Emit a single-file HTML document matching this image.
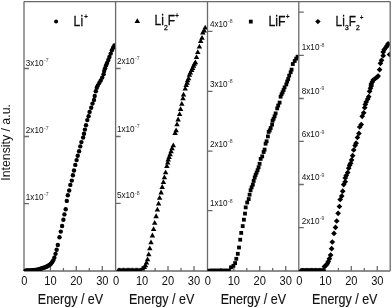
<!DOCTYPE html>
<html><head><meta charset="utf-8"><style>
html,body{margin:0;padding:0;background:#fff;width:392px;height:308px;overflow:hidden}
svg{display:block}
</style></head><body>
<svg width="392" height="308" viewBox="0 0 392 308">
<defs>
<clipPath id="c0"><rect x="22.0" y="0" width="93.1" height="271.0"/></clipPath>
<clipPath id="c1"><rect x="113.6" y="0" width="93.4" height="271.0"/></clipPath>
<clipPath id="c2"><rect x="205.5" y="0" width="92.80000000000001" height="271.0"/></clipPath>
<clipPath id="c3"><rect x="296.8" y="0" width="92.89999999999998" height="271.0"/></clipPath>
</defs>
<rect width="392" height="308" fill="#fff"/>
<g stroke="#6a6a6a" stroke-width="1.3" fill="none">
<path d="M24.0 1.6H390.2M24.0 271.0H390.2"/>
<path d="M24.0 1.6V271.0"/>
<path d="M115.6 1.6V271.0"/>
<path d="M207.5 1.6V271.0"/>
<path d="M298.8 1.6V271.0"/>
<path d="M390.2 1.6V271.0"/>
<path d="M37.4 271.0V268.0M50.4 271.0V266.0M63.4 271.0V268.0M76.3 271.0V266.0M89.3 271.0V268.0M102.3 271.0V266.0M129.1 271.0V268.0M142.1 271.0V266.0M155.1 271.0V268.0M168.0 271.0V266.0M181.0 271.0V268.0M194.0 271.0V266.0M220.8 271.0V268.0M233.8 271.0V266.0M246.8 271.0V268.0M259.7 271.0V266.0M272.7 271.0V268.0M285.7 271.0V266.0M312.4 271.0V268.0M325.4 271.0V266.0M338.4 271.0V268.0M351.3 271.0V266.0M364.3 271.0V268.0M377.3 271.0V266.0M24.0 68.5H29.0M24.0 136.5H29.0M24.0 203.6H29.0M115.6 68.5H120.6M115.6 136.5H120.6M115.6 203.3H120.6M207.5 31.4H212.5M207.5 91.4H212.5M207.5 151.1H212.5M207.5 210.6H212.5M298.8 12.2H303.8M298.8 55.4H303.8M298.8 98.5H303.8M298.8 141.4H303.8M298.8 184.5H303.8M298.8 227.6H303.8"/>
</g>
<g fill="#000" clip-path="url(#c0)"><circle cx="25.60" cy="270.59" r="2.2"/><circle cx="26.75" cy="270.56" r="2.2"/><circle cx="27.90" cy="270.54" r="2.2"/><circle cx="29.05" cy="270.52" r="2.2"/><circle cx="30.20" cy="270.48" r="2.2"/><circle cx="31.35" cy="270.37" r="2.2"/><circle cx="32.50" cy="270.25" r="2.2"/><circle cx="33.65" cy="270.13" r="2.2"/><circle cx="34.80" cy="270.02" r="2.2"/><circle cx="35.95" cy="269.91" r="2.2"/><circle cx="37.10" cy="269.77" r="2.2"/><circle cx="38.25" cy="269.43" r="2.2"/><circle cx="39.40" cy="269.08" r="2.2"/><circle cx="40.55" cy="268.74" r="2.2"/><circle cx="41.70" cy="268.38" r="2.2"/><circle cx="42.85" cy="268.03" r="2.2"/><circle cx="44.00" cy="267.65" r="2.2"/><circle cx="45.15" cy="267.22" r="2.2"/><circle cx="46.30" cy="266.79" r="2.2"/><circle cx="47.45" cy="266.20" r="2.2"/><circle cx="48.60" cy="265.49" r="2.2"/><circle cx="49.75" cy="264.68" r="2.2"/><circle cx="50.90" cy="263.64" r="2.2"/><circle cx="52.05" cy="262.26" r="2.2"/><circle cx="53.20" cy="260.35" r="2.2"/><circle cx="54.35" cy="257.76" r="2.2"/><circle cx="55.50" cy="253.87" r="2.2"/><circle cx="56.65" cy="249.76" r="2.2"/><circle cx="57.80" cy="244.98" r="2.2"/><circle cx="59.50" cy="237.20" r="2.2"/><circle cx="60.80" cy="231.60" r="2.2"/><circle cx="62.10" cy="226.00" r="2.2"/><circle cx="63.40" cy="219.70" r="2.2"/><circle cx="64.40" cy="214.40" r="2.2"/><circle cx="65.70" cy="209.30" r="2.2"/><circle cx="66.80" cy="200.90" r="2.2"/><circle cx="67.80" cy="195.30" r="2.2"/><circle cx="69.20" cy="190.50" r="2.2"/><circle cx="70.30" cy="184.90" r="2.2"/><circle cx="71.80" cy="180.60" r="2.2"/><circle cx="72.90" cy="175.20" r="2.2"/><circle cx="74.00" cy="170.50" r="2.2"/><circle cx="75.30" cy="164.90" r="2.2"/><circle cx="76.60" cy="160.10" r="2.2"/><circle cx="77.70" cy="155.80" r="2.2"/><circle cx="79.10" cy="151.20" r="2.2"/><circle cx="80.30" cy="146.40" r="2.2"/><circle cx="81.40" cy="142.10" r="2.2"/><circle cx="83.10" cy="137.60" r="2.2"/><circle cx="84.00" cy="133.80" r="2.2"/><circle cx="84.90" cy="129.60" r="2.2"/><circle cx="86.00" cy="125.30" r="2.2"/><circle cx="87.30" cy="120.10" r="2.2"/><circle cx="88.60" cy="116.20" r="2.2"/><circle cx="89.60" cy="111.90" r="2.2"/><circle cx="91.20" cy="107.80" r="2.2"/><circle cx="92.50" cy="103.60" r="2.2"/><circle cx="94.00" cy="100.00" r="2.2"/><circle cx="94.70" cy="96.00" r="2.2"/><circle cx="95.80" cy="91.20" r="2.2"/><circle cx="96.80" cy="87.80" r="2.2"/><circle cx="97.80" cy="85.40" r="2.2"/><circle cx="99.30" cy="82.90" r="2.2"/><circle cx="100.70" cy="80.50" r="2.2"/><circle cx="102.20" cy="77.60" r="2.2"/><circle cx="103.60" cy="74.20" r="2.2"/><circle cx="104.20" cy="71.00" r="2.2"/><circle cx="105.10" cy="68.20" r="2.2"/><circle cx="106.10" cy="65.30" r="2.2"/><circle cx="107.10" cy="62.90" r="2.2"/><circle cx="108.30" cy="60.00" r="2.2"/><circle cx="109.40" cy="57.00" r="2.2"/><circle cx="110.70" cy="53.60" r="2.2"/><circle cx="111.90" cy="50.20" r="2.2"/><circle cx="113.10" cy="47.70" r="2.2"/><circle cx="114.40" cy="45.40" r="2.2"/></g>
<g fill="#000" clip-path="url(#c1)"><path d="M118.30 267.42L121.05 272.19L115.55 272.19Z"/><path d="M119.60 267.42L122.35 272.19L116.85 272.19Z"/><path d="M120.90 267.42L123.65 272.19L118.15 272.19Z"/><path d="M122.20 267.42L124.95 272.19L119.45 272.19Z"/><path d="M123.50 267.42L126.25 272.19L120.75 272.19Z"/><path d="M124.80 267.42L127.55 272.19L122.05 272.19Z"/><path d="M126.10 267.42L128.85 272.19L123.35 272.19Z"/><path d="M127.40 267.42L130.15 272.19L124.65 272.19Z"/><path d="M128.70 267.42L131.45 272.19L125.95 272.19Z"/><path d="M130.00 267.42L132.75 272.19L127.25 272.19Z"/><path d="M131.30 267.42L134.05 272.19L128.55 272.19Z"/><path d="M132.60 267.42L135.35 272.19L129.85 272.19Z"/><path d="M133.90 267.42L136.65 272.19L131.15 272.19Z"/><path d="M135.20 267.42L137.95 272.19L132.45 272.19Z"/><path d="M136.50 267.42L139.25 272.19L133.75 272.19Z"/><path d="M137.80 267.42L140.55 272.19L135.05 272.19Z"/><path d="M139.10 267.42L141.85 272.19L136.35 272.19Z"/><path d="M140.40 267.42L143.15 272.19L137.65 272.19Z"/><path d="M142.60 265.82L145.35 270.59L139.85 270.59Z"/><path d="M144.30 264.22L147.05 268.99L141.55 268.99Z"/><path d="M145.40 262.52L148.15 267.29L142.65 267.29Z"/><path d="M146.50 259.82L149.25 264.59L143.75 264.59Z"/><path d="M147.60 256.52L150.35 261.29L144.85 261.29Z"/><path d="M148.70 251.52L151.45 256.29L145.95 256.29Z"/><path d="M149.80 245.42L152.55 250.19L147.05 250.19Z"/><path d="M151.00 239.47L153.75 244.24L148.25 244.24Z"/><path d="M152.40 232.62L155.15 237.39L149.65 237.39Z"/><path d="M153.60 226.32L156.35 231.09L150.85 231.09Z"/><path d="M154.70 220.02L157.45 224.79L151.95 224.79Z"/><path d="M156.10 213.37L158.85 218.14L153.35 218.14Z"/><path d="M157.40 206.72L160.15 211.49L154.65 211.49Z"/><path d="M158.60 200.82L161.35 205.59L155.85 205.59Z"/><path d="M159.60 195.02L162.35 199.79L156.85 199.79Z"/><path d="M161.10 189.62L163.85 194.39L158.35 194.39Z"/><path d="M162.20 184.12L164.95 188.89L159.45 188.89Z"/><path d="M163.40 179.32L166.15 184.09L160.65 184.09Z"/><path d="M164.40 174.42L167.15 179.19L161.65 179.19Z"/><path d="M165.60 169.52L168.35 174.29L162.85 174.29Z"/><path d="M166.85 163.17L169.60 167.94L164.10 167.94Z"/><path d="M167.70 159.72L170.45 164.49L164.95 164.49Z"/><path d="M168.20 156.72L170.95 161.49L165.45 161.49Z"/><path d="M169.10 154.32L171.85 159.09L166.35 159.09Z"/><path d="M170.10 151.42L172.85 156.19L167.35 156.19Z"/><path d="M171.10 148.52L173.85 153.29L168.35 153.29Z"/><path d="M172.10 145.52L174.85 150.29L169.35 150.29Z"/><path d="M173.30 142.57L176.05 147.34L170.55 147.34Z"/><path d="M175.10 130.32L177.85 135.09L172.35 135.09Z"/><path d="M176.10 127.42L178.85 132.19L173.35 132.19Z"/><path d="M177.00 121.52L179.75 126.29L174.25 126.29Z"/><path d="M178.10 116.62L180.85 121.39L175.35 121.39Z"/><path d="M179.60 111.22L182.35 115.99L176.85 115.99Z"/><path d="M180.60 106.32L183.35 111.09L177.85 111.09Z"/><path d="M181.80 101.02L184.55 105.79L179.05 105.79Z"/><path d="M182.95 95.57L185.70 100.34L180.20 100.34Z"/><path d="M183.50 91.72L186.25 96.49L180.75 96.49Z"/><path d="M185.20 85.72L187.95 90.49L182.45 90.49Z"/><path d="M186.20 82.32L188.95 87.09L183.45 87.09Z"/><path d="M187.10 79.92L189.85 84.69L184.35 84.69Z"/><path d="M187.60 77.42L190.35 82.19L184.85 82.19Z"/><path d="M188.60 75.52L191.35 80.29L185.85 80.29Z"/><path d="M189.45 72.02L192.20 76.79L186.70 76.79Z"/><path d="M190.40 69.82L193.15 74.59L187.65 74.59Z"/><path d="M191.68 67.20L194.43 71.96L188.93 71.96Z"/><path d="M192.60 65.27L195.35 70.04L189.85 70.04Z"/><path d="M193.50 63.02L196.25 67.79L190.75 67.79Z"/><path d="M194.40 61.02L197.15 65.79L191.65 65.79Z"/><path d="M195.40 59.42L198.15 64.19L192.65 64.19Z"/><path d="M196.50 54.32L199.25 59.09L193.75 59.09Z"/><path d="M197.75 49.22L200.50 53.99L195.00 53.99Z"/><path d="M199.40 43.82L202.15 48.59L196.65 48.59Z"/><path d="M200.70 38.22L203.45 42.99L197.95 42.99Z"/><path d="M202.00 35.02L204.75 39.79L199.25 39.79Z"/><path d="M202.80 29.72L205.55 34.49L200.05 34.49Z"/><path d="M204.20 27.72L206.95 32.49L201.45 32.49Z"/><path d="M205.20 24.82L207.95 29.59L202.45 29.59Z"/></g>
<g fill="#000" clip-path="url(#c2)"><rect x="207.50" y="268.80" width="3.8" height="3.8"/><rect x="208.80" y="268.80" width="3.8" height="3.8"/><rect x="210.10" y="268.80" width="3.8" height="3.8"/><rect x="211.40" y="268.80" width="3.8" height="3.8"/><rect x="212.70" y="268.80" width="3.8" height="3.8"/><rect x="214.00" y="268.80" width="3.8" height="3.8"/><rect x="215.30" y="268.80" width="3.8" height="3.8"/><rect x="216.60" y="268.80" width="3.8" height="3.8"/><rect x="217.90" y="268.80" width="3.8" height="3.8"/><rect x="219.20" y="268.80" width="3.8" height="3.8"/><rect x="220.50" y="268.80" width="3.8" height="3.8"/><rect x="221.80" y="268.80" width="3.8" height="3.8"/><rect x="223.10" y="268.80" width="3.8" height="3.8"/><rect x="224.40" y="268.80" width="3.8" height="3.8"/><rect x="225.70" y="268.80" width="3.8" height="3.8"/><rect x="227.00" y="268.80" width="3.8" height="3.8"/><rect x="229.10" y="265.40" width="3.8" height="3.8"/><rect x="231.50" y="263.90" width="3.8" height="3.8"/><rect x="233.20" y="261.20" width="3.8" height="3.8"/><rect x="234.40" y="256.90" width="3.8" height="3.8"/><rect x="235.90" y="251.90" width="3.8" height="3.8"/><rect x="237.10" y="245.60" width="3.8" height="3.8"/><rect x="238.30" y="237.80" width="3.8" height="3.8"/><rect x="239.30" y="231.00" width="3.8" height="3.8"/><rect x="240.80" y="224.20" width="3.8" height="3.8"/><rect x="242.00" y="217.80" width="3.8" height="3.8"/><rect x="243.10" y="211.70" width="3.8" height="3.8"/><rect x="243.80" y="205.50" width="3.8" height="3.8"/><rect x="245.30" y="200.60" width="3.8" height="3.8"/><rect x="246.80" y="197.20" width="3.8" height="3.8"/><rect x="247.70" y="192.80" width="3.8" height="3.8"/><rect x="248.70" y="188.40" width="3.8" height="3.8"/><rect x="249.75" y="185.40" width="3.8" height="3.8"/><rect x="250.95" y="182.70" width="3.8" height="3.8"/><rect x="251.80" y="179.00" width="3.8" height="3.8"/><rect x="252.80" y="175.60" width="3.8" height="3.8"/><rect x="253.70" y="173.10" width="3.8" height="3.8"/><rect x="254.70" y="170.70" width="3.8" height="3.8"/><rect x="255.70" y="168.30" width="3.8" height="3.8"/><rect x="256.70" y="165.40" width="3.8" height="3.8"/><rect x="257.70" y="161.90" width="3.8" height="3.8"/><rect x="258.80" y="157.00" width="3.8" height="3.8"/><rect x="260.30" y="154.50" width="3.8" height="3.8"/><rect x="261.70" y="150.10" width="3.8" height="3.8"/><rect x="262.70" y="147.70" width="3.8" height="3.8"/><rect x="263.70" y="141.80" width="3.8" height="3.8"/><rect x="264.70" y="139.40" width="3.8" height="3.8"/><rect x="266.00" y="134.50" width="3.8" height="3.8"/><rect x="266.80" y="130.00" width="3.8" height="3.8"/><rect x="267.80" y="128.50" width="3.8" height="3.8"/><rect x="268.80" y="126.10" width="3.8" height="3.8"/><rect x="270.20" y="122.70" width="3.8" height="3.8"/><rect x="270.70" y="118.80" width="3.8" height="3.8"/><rect x="271.70" y="116.90" width="3.8" height="3.8"/><rect x="272.70" y="114.40" width="3.8" height="3.8"/><rect x="273.70" y="111.50" width="3.8" height="3.8"/><rect x="275.30" y="106.50" width="3.8" height="3.8"/><rect x="276.30" y="103.60" width="3.8" height="3.8"/><rect x="277.70" y="100.70" width="3.8" height="3.8"/><rect x="278.70" y="94.80" width="3.8" height="3.8"/><rect x="279.70" y="92.40" width="3.8" height="3.8"/><rect x="280.70" y="90.40" width="3.8" height="3.8"/><rect x="281.70" y="88.10" width="3.8" height="3.8"/><rect x="282.70" y="85.50" width="3.8" height="3.8"/><rect x="284.40" y="82.50" width="3.8" height="3.8"/><rect x="285.30" y="79.60" width="3.8" height="3.8"/><rect x="286.30" y="77.10" width="3.8" height="3.8"/><rect x="287.30" y="73.70" width="3.8" height="3.8"/><rect x="288.75" y="70.35" width="3.8" height="3.8"/><rect x="289.70" y="67.70" width="3.8" height="3.8"/><rect x="290.90" y="62.15" width="3.8" height="3.8"/><rect x="292.80" y="59.10" width="3.8" height="3.8"/><rect x="294.20" y="56.70" width="3.8" height="3.8"/><rect x="295.70" y="54.80" width="3.8" height="3.8"/></g>
<g fill="#000" clip-path="url(#c3)"><path d="M301.20 267.85L304.05 270.70L301.20 273.55L298.35 270.70Z"/><path d="M302.50 267.85L305.35 270.70L302.50 273.55L299.65 270.70Z"/><path d="M303.80 267.85L306.65 270.70L303.80 273.55L300.95 270.70Z"/><path d="M305.10 267.85L307.95 270.70L305.10 273.55L302.25 270.70Z"/><path d="M306.40 267.85L309.25 270.70L306.40 273.55L303.55 270.70Z"/><path d="M307.70 267.85L310.55 270.70L307.70 273.55L304.85 270.70Z"/><path d="M309.00 267.85L311.85 270.70L309.00 273.55L306.15 270.70Z"/><path d="M310.30 267.85L313.15 270.70L310.30 273.55L307.45 270.70Z"/><path d="M311.60 267.85L314.45 270.70L311.60 273.55L308.75 270.70Z"/><path d="M312.90 267.85L315.75 270.70L312.90 273.55L310.05 270.70Z"/><path d="M314.20 267.85L317.05 270.70L314.20 273.55L311.35 270.70Z"/><path d="M315.50 267.85L318.35 270.70L315.50 273.55L312.65 270.70Z"/><path d="M316.80 267.85L319.65 270.70L316.80 273.55L313.95 270.70Z"/><path d="M318.10 267.85L320.95 270.70L318.10 273.55L315.25 270.70Z"/><path d="M319.40 267.85L322.25 270.70L319.40 273.55L316.55 270.70Z"/><path d="M320.70 267.85L323.55 270.70L320.70 273.55L317.85 270.70Z"/><path d="M322.00 267.85L324.85 270.70L322.00 273.55L319.15 270.70Z"/><path d="M323.30 267.85L326.15 270.70L323.30 273.55L320.45 270.70Z"/><path d="M324.40 263.75L327.25 266.60L324.40 269.45L321.55 266.60Z"/><path d="M325.90 262.55L328.75 265.40L325.90 268.25L323.05 265.40Z"/><path d="M327.30 260.85L330.15 263.70L327.30 266.55L324.45 263.70Z"/><path d="M328.30 258.75L331.15 261.60L328.30 264.45L325.45 261.60Z"/><path d="M329.40 255.85L332.25 258.70L329.40 261.55L326.55 258.70Z"/><path d="M330.60 252.25L333.45 255.10L330.60 257.95L327.75 255.10Z"/><path d="M331.60 245.85L334.45 248.70L331.60 251.55L328.75 248.70Z"/><path d="M332.30 239.15L335.15 242.00L332.30 244.85L329.45 242.00Z"/><path d="M334.00 230.55L336.85 233.40L334.00 236.25L331.15 233.40Z"/><path d="M335.50 224.55L338.35 227.40L335.50 230.25L332.65 227.40Z"/><path d="M336.70 218.15L339.55 221.00L336.70 223.85L333.85 221.00Z"/><path d="M338.10 210.45L340.95 213.30L338.10 216.15L335.25 213.30Z"/><path d="M339.40 203.65L342.25 206.50L339.40 209.35L336.55 206.50Z"/><path d="M340.20 196.65L343.05 199.50L340.20 202.35L337.35 199.50Z"/><path d="M341.70 193.25L344.55 196.10L341.70 198.95L338.85 196.10Z"/><path d="M342.70 188.35L345.55 191.20L342.70 194.05L339.85 191.20Z"/><path d="M343.70 181.70L346.55 184.55L343.70 187.40L340.85 184.55Z"/><path d="M345.20 179.00L348.05 181.85L345.20 184.70L342.35 181.85Z"/><path d="M345.30 175.05L348.15 177.90L345.30 180.75L342.45 177.90Z"/><path d="M346.20 172.65L349.05 175.50L346.20 178.35L343.35 175.50Z"/><path d="M347.70 169.75L350.55 172.60L347.70 175.45L344.85 172.60Z"/><path d="M348.70 165.35L351.55 168.20L348.70 171.05L345.85 168.20Z"/><path d="M349.60 162.45L352.45 165.30L349.60 168.15L346.75 165.30Z"/><path d="M350.60 160.45L353.45 163.30L350.60 166.15L347.75 163.30Z"/><path d="M351.60 157.05L354.45 159.90L351.60 162.75L348.75 159.90Z"/><path d="M352.65 152.85L355.50 155.70L352.65 158.55L349.80 155.70Z"/><path d="M353.70 147.15L356.55 150.00L353.70 152.85L350.85 150.00Z"/><path d="M355.10 142.75L357.95 145.60L355.10 148.45L352.25 145.60Z"/><path d="M356.10 140.35L358.95 143.20L356.10 146.05L353.25 143.20Z"/><path d="M357.45 134.65L360.30 137.50L357.45 140.35L354.60 137.50Z"/><path d="M358.90 130.55L361.75 133.40L358.90 136.25L356.05 133.40Z"/><path d="M359.70 124.15L362.55 127.00L359.70 129.85L356.85 127.00Z"/><path d="M361.20 121.75L364.05 124.60L361.20 127.45L358.35 124.60Z"/><path d="M362.20 113.45L365.05 116.30L362.20 119.15L359.35 116.30Z"/><path d="M363.70 109.95L366.55 112.80L363.70 115.65L360.85 112.80Z"/><path d="M364.70 104.85L367.55 107.70L364.70 110.55L361.85 107.70Z"/><path d="M365.30 101.55L368.15 104.40L365.30 107.25L362.45 104.40Z"/><path d="M366.20 99.15L369.05 102.00L366.20 104.85L363.35 102.00Z"/><path d="M367.70 96.25L370.55 99.10L367.70 101.95L364.85 99.10Z"/><path d="M368.70 93.85L371.55 96.70L368.70 99.55L365.85 96.70Z"/><path d="M369.60 88.45L372.45 91.30L369.60 94.15L366.75 91.30Z"/><path d="M370.45 85.45L373.30 88.30L370.45 91.15L367.60 88.30Z"/><path d="M371.20 83.05L374.05 85.90L371.20 88.75L368.35 85.90Z"/><path d="M371.30 81.05L374.15 83.90L371.30 86.75L368.45 83.90Z"/><path d="M372.30 79.05L375.15 81.90L372.30 84.75L369.45 81.90Z"/><path d="M373.20 77.15L376.05 80.00L373.20 82.85L370.35 80.00Z"/><path d="M374.70 76.15L377.55 79.00L374.70 81.85L371.85 79.00Z"/><path d="M376.70 74.65L379.55 77.50L376.70 80.35L373.85 77.50Z"/><path d="M378.10 73.25L380.95 76.10L378.10 78.95L375.25 76.10Z"/><path d="M379.60 66.85L382.45 69.70L379.60 72.55L376.75 69.70Z"/><path d="M380.45 60.50L383.30 63.35L380.45 66.20L377.60 63.35Z"/><path d="M381.52 57.42L384.38 60.27L381.52 63.12L378.67 60.27Z"/><path d="M383.20 52.85L386.05 55.70L383.20 58.55L380.35 55.70Z"/><path d="M389.50 51.65L392.35 54.50L389.50 57.35L386.65 54.50Z"/><path d="M383.20 49.25L386.05 52.10L383.20 54.95L380.35 52.10Z"/><path d="M384.20 46.75L387.05 49.60L384.20 52.45L381.35 49.60Z"/><path d="M386.10 44.35L388.95 47.20L386.10 50.05L383.25 47.20Z"/><path d="M387.10 42.85L389.95 45.70L387.10 48.55L384.25 45.70Z"/><path d="M388.10 40.95L390.95 43.80L388.10 46.65L385.25 43.80Z"/></g>
<g fill="#000">
<circle cx="56.10" cy="21.60" r="2.0"/>
<path d="M137.30 18.27L140.10 23.12L134.50 23.12Z"/>
<rect x="248.90" y="19.70" width="3.8" height="3.8"/>
<path d="M317.90 18.90L320.60 21.60L317.90 24.30L315.20 21.60Z"/>
</g>
<g font-family="Liberation Sans, Arial, sans-serif" fill="#111">
<text transform="translate(73.4,25.7) scale(0.86,1)" font-size="14.0" stroke="#000" stroke-width="0.3">L<tspan dx="0.6">i</tspan><tspan font-size="7" dx="1.0" dy="-6.3">+</tspan></text>
<text transform="translate(154.5,25.4) scale(0.855,1)" font-size="14.0" stroke="#000" stroke-width="0.3">Li<tspan font-size="8" dx="0.2" dy="4.2">2</tspan><tspan dy="-4.2">F</tspan><tspan font-size="7" dx="0.3" dy="-7.6">+</tspan></text>
<text transform="translate(268.5,25.6) scale(0.875,1)" font-size="14.0" stroke="#000" stroke-width="0.3">LiF<tspan font-size="7" dx="0.6" dy="-6.9">+</tspan></text>
<text transform="translate(335.6,25.6) scale(0.84,1)" font-size="14.0" stroke="#000" stroke-width="0.3">Li<tspan font-size="8" dx="0.2" dy="4.8">3</tspan><tspan dy="-4.8">F</tspan><tspan font-size="8" dx="0.2" dy="4.8">2</tspan><tspan font-size="7" dx="0.3" dy="-10.8">+</tspan></text>
<text transform="translate(25.8,65.8) scale(0.92,1)" font-size="8.9" >3x10<tspan font-size="5.6" dx="0.5" dy="-3.9" fill="#444">-7</tspan></text>
<text transform="translate(25.8,133.4) scale(0.92,1)" font-size="8.9" >2x10<tspan font-size="5.6" dx="0.5" dy="-3.9" fill="#444">-7</tspan></text>
<text transform="translate(25.8,200.2) scale(0.92,1)" font-size="8.9" >1x10<tspan font-size="5.6" dx="0.5" dy="-3.9" fill="#444">-7</tspan></text>
<text transform="translate(116.9,63.6) scale(0.92,1)" font-size="8.9" >2x10<tspan font-size="5.6" dx="0.5" dy="-3.9" fill="#444">-7</tspan></text>
<text transform="translate(116.9,131.6) scale(0.92,1)" font-size="8.9" >1x10<tspan font-size="5.6" dx="0.5" dy="-3.9" fill="#444">-7</tspan></text>
<text transform="translate(116.9,198.4) scale(0.92,1)" font-size="8.9" >5x10<tspan font-size="5.6" dx="0.5" dy="-3.9" fill="#444">-8</tspan></text>
<text transform="translate(209.9,26.9) scale(0.92,1)" font-size="8.9" >4x10<tspan font-size="5.6" dx="0.5" dy="-3.9" fill="#444">-8</tspan></text>
<text transform="translate(209.9,87.2) scale(0.92,1)" font-size="8.9" >3x10<tspan font-size="5.6" dx="0.5" dy="-3.9" fill="#444">-8</tspan></text>
<text transform="translate(209.9,146.7) scale(0.92,1)" font-size="8.9" >2x10<tspan font-size="5.6" dx="0.5" dy="-3.9" fill="#444">-8</tspan></text>
<text transform="translate(209.9,206.4) scale(0.92,1)" font-size="8.9" >1x10<tspan font-size="5.6" dx="0.5" dy="-3.9" fill="#444">-8</tspan></text>
<text transform="translate(301.7,50.4) scale(0.92,1)" font-size="8.9" >1x10<tspan font-size="5.6" dx="0.5" dy="-3.9" fill="#444">-8</tspan></text>
<text transform="translate(301.7,94.1) scale(0.92,1)" font-size="8.9" >8x10<tspan font-size="5.6" dx="0.5" dy="-3.9" fill="#444">-9</tspan></text>
<text transform="translate(301.7,137.4) scale(0.92,1)" font-size="8.9" >6x10<tspan font-size="5.6" dx="0.5" dy="-3.9" fill="#444">-9</tspan></text>
<text transform="translate(301.7,180.4) scale(0.92,1)" font-size="8.9" >4x10<tspan font-size="5.6" dx="0.5" dy="-3.9" fill="#444">-9</tspan></text>
<text transform="translate(301.7,223.7) scale(0.92,1)" font-size="8.9" >2x10<tspan font-size="5.6" dx="0.5" dy="-3.9" fill="#444">-9</tspan></text>
<text transform="translate(24.4,284.5) scale(0.91,1)" font-size="12.2" text-anchor="middle">0</text>
<text transform="translate(50.4,284.5) scale(0.91,1)" font-size="12.2" text-anchor="middle">10</text>
<text transform="translate(76.3,284.5) scale(0.91,1)" font-size="12.2" text-anchor="middle">20</text>
<text transform="translate(102.3,284.5) scale(0.91,1)" font-size="12.2" text-anchor="middle">30</text>
<text transform="translate(116.1,284.5) scale(0.91,1)" font-size="12.2" text-anchor="middle">0</text>
<text transform="translate(142.1,284.5) scale(0.91,1)" font-size="12.2" text-anchor="middle">10</text>
<text transform="translate(168.0,284.5) scale(0.91,1)" font-size="12.2" text-anchor="middle">20</text>
<text transform="translate(194.0,284.5) scale(0.91,1)" font-size="12.2" text-anchor="middle">30</text>
<text transform="translate(207.8,284.5) scale(0.91,1)" font-size="12.2" text-anchor="middle">0</text>
<text transform="translate(233.8,284.5) scale(0.91,1)" font-size="12.2" text-anchor="middle">10</text>
<text transform="translate(259.7,284.5) scale(0.91,1)" font-size="12.2" text-anchor="middle">20</text>
<text transform="translate(285.7,284.5) scale(0.91,1)" font-size="12.2" text-anchor="middle">30</text>
<text transform="translate(299.4,284.5) scale(0.91,1)" font-size="12.2" text-anchor="middle">0</text>
<text transform="translate(325.4,284.5) scale(0.91,1)" font-size="12.2" text-anchor="middle">10</text>
<text transform="translate(351.3,284.5) scale(0.91,1)" font-size="12.2" text-anchor="middle">20</text>
<text transform="translate(377.3,284.5) scale(0.91,1)" font-size="12.2" text-anchor="middle">30</text>
<text transform="translate(37.78,304.2) scale(0.895,1)" font-size="14.0" stroke="#111" stroke-width="0.15">Energy / eV</text>
<text transform="translate(128.93,304.2) scale(0.895,1)" font-size="14.0" stroke="#111" stroke-width="0.15">Energy / eV</text>
<text transform="translate(220.68,304.2) scale(0.895,1)" font-size="14.0" stroke="#111" stroke-width="0.15">Energy / eV</text>
<text transform="translate(312.08,304.2) scale(0.895,1)" font-size="14.0" stroke="#111" stroke-width="0.15">Energy / eV</text>
<text transform="translate(10.4,180.7) rotate(-90)" font-size="12.0" textLength="76.6" lengthAdjust="spacingAndGlyphs">Intensity / a.u.</text>
</g>
</svg>
</body></html>
